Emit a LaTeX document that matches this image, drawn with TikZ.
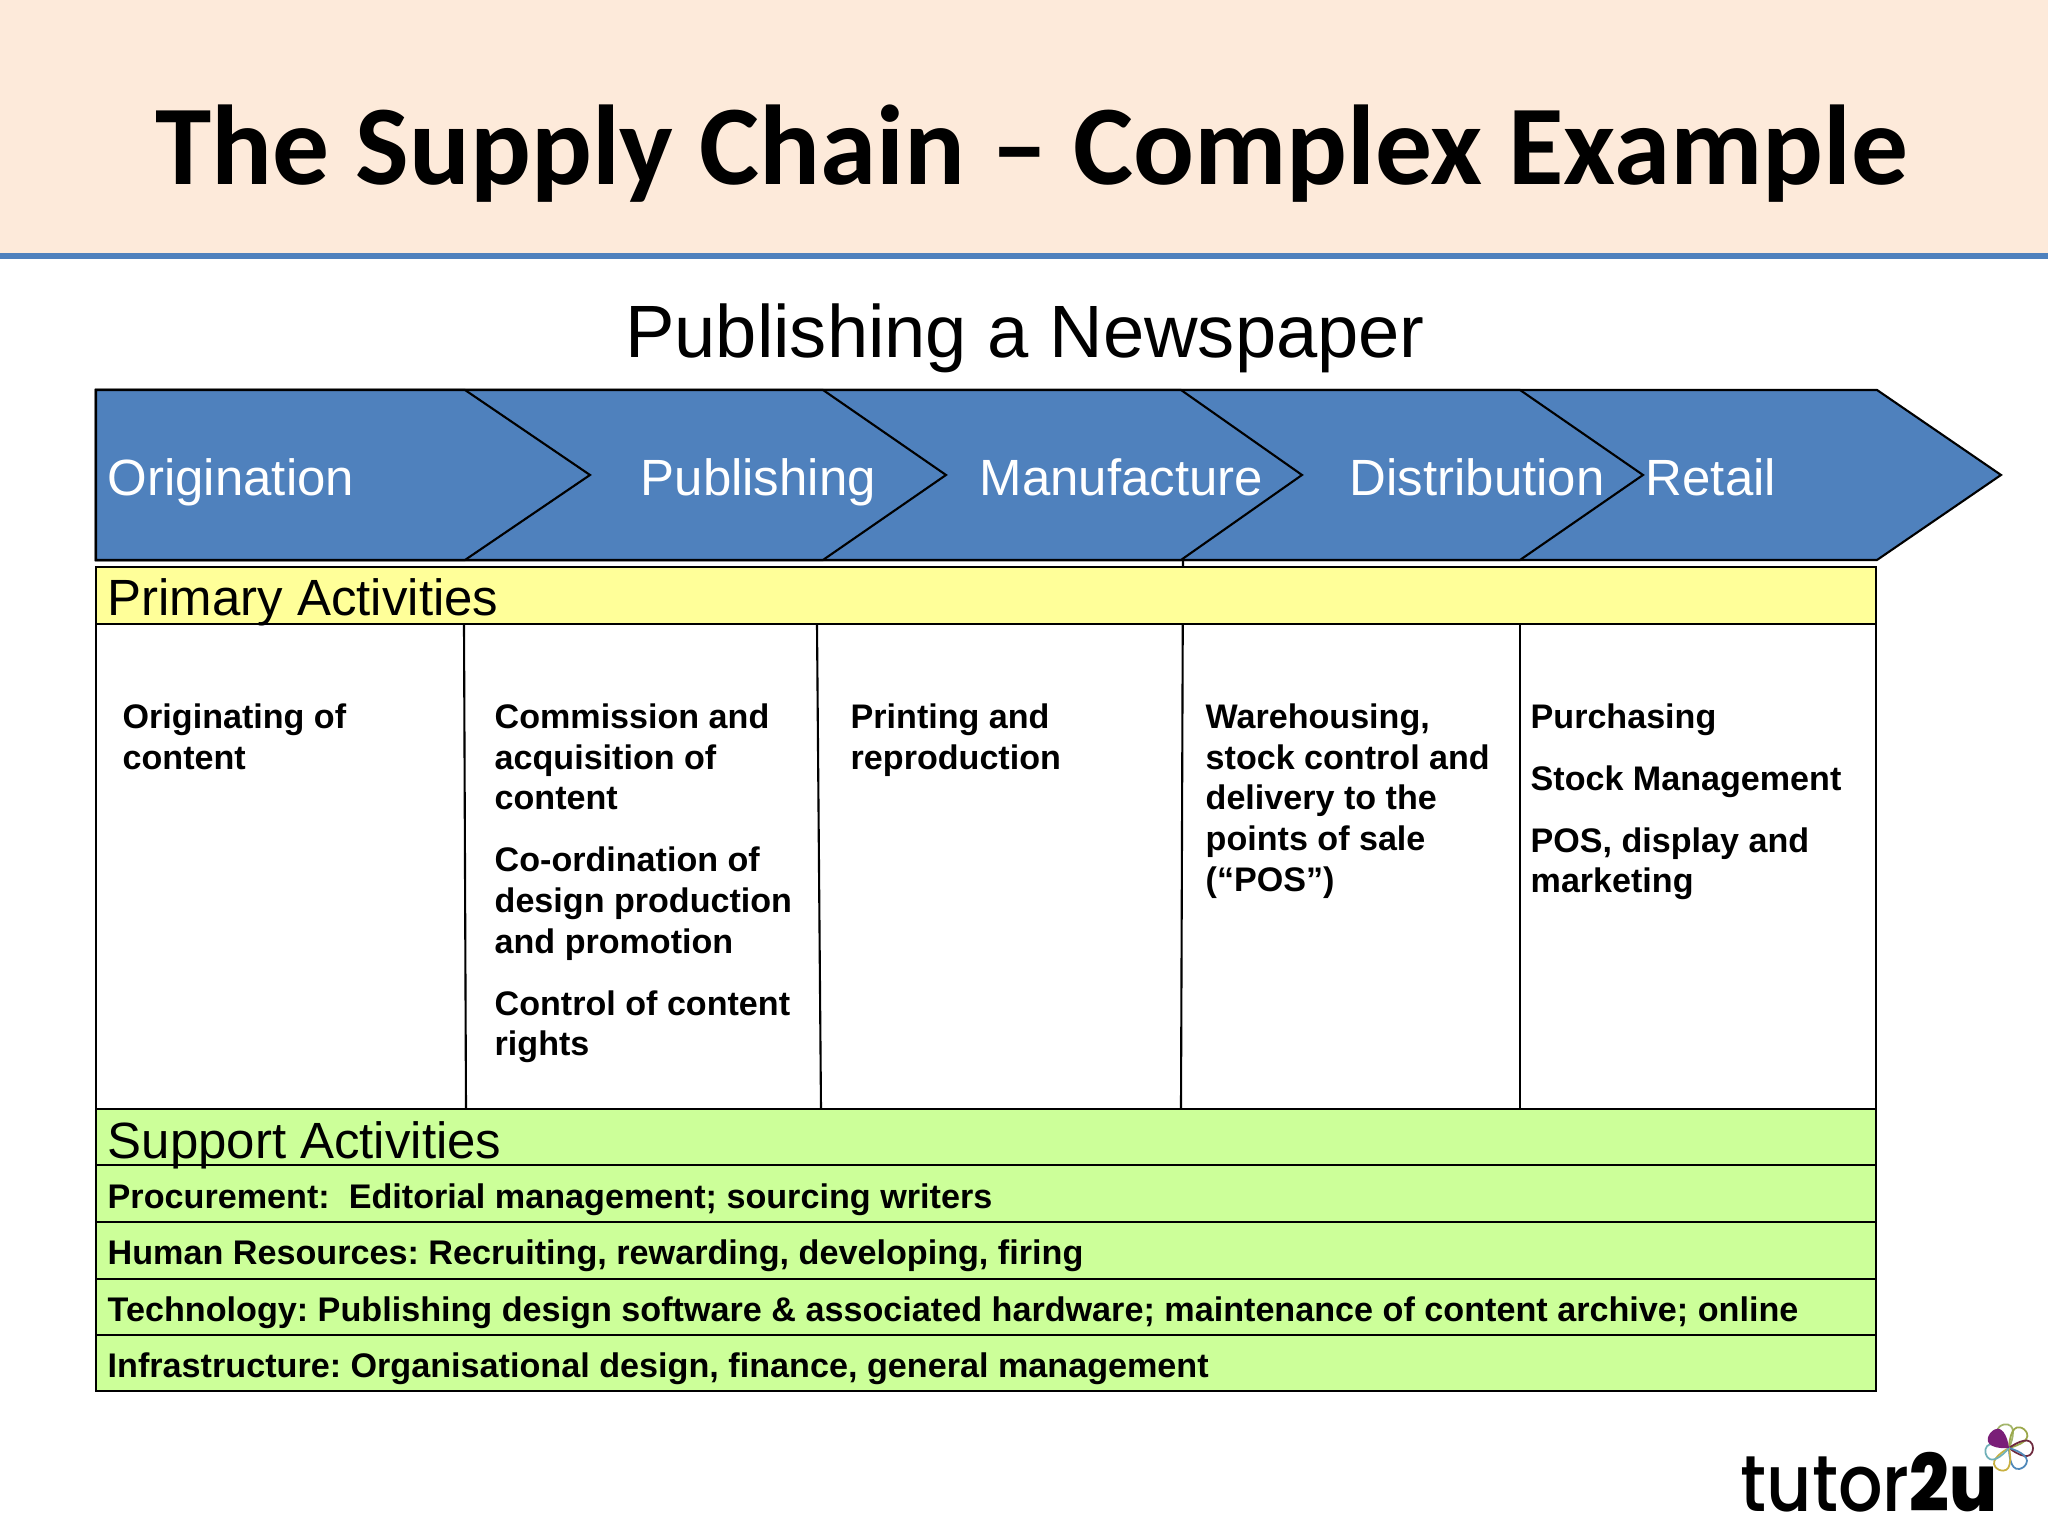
\documentclass[tikz,border=0pt]{standalone}
\usepackage{fontspec}
\setmainfont{Liberation Sans}
\newfontfamily\titlefont{Carlito}
\newfontfamily\logofont{Poppins}[UprightFont=* Medium,BoldFont=* ExtraBold,FakeStretch=0.88]
\definecolor{headpeach}{HTML}{FDEADA}
\definecolor{headline}{HTML}{4F81BD}
\definecolor{stagefill}{HTML}{4F81BD}
\definecolor{primaryfill}{HTML}{FFFF99}
\definecolor{supportfill}{HTML}{CCFF99}
\definecolor{petalsage}{HTML}{A3B56B}
\definecolor{petalolive}{HTML}{9BA84A}
\definecolor{petalmaroon}{HTML}{6E2A3E}
\definecolor{petalblue}{HTML}{4F88B8}
\definecolor{petalyellow}{HTML}{C8B040}
\definecolor{petalteal}{HTML}{70B0B8}
\definecolor{petalpurple}{HTML}{7A1E78}
\frenchspacing
\begin{document}
\begin{tikzpicture}[>=stealth,
  stagebox/.style={draw=black,fill=stagefill,line width=0.6pt,line join=miter},
  rowbox/.style={draw=black,line width=0.6pt},
  stagelabel/.style={anchor=base west,inner sep=0pt,text=white,font=\fontsize{14.5}{17}\selectfont},
  bandlabel/.style={anchor=base west,inner sep=0pt,font=\fontsize{14.5}{17}\selectfont},
  rowlabel/.style={anchor=base west,inner sep=0pt,font=\fontsize{9.72}{11.6}\selectfont\bfseries},
  celltext/.style={anchor=north west,inner sep=0pt,align=left,font=\fontsize{9.7}{11.6}\selectfont\bfseries},
  petal/.style={line width=0.5pt}]
\useasboundingbox (0,0) rectangle (20.48,15.36);

% header
\fill[headpeach] (0,12.83) rectangle (20.48,15.36);
\fill[headline] (0,12.77) rectangle (20.48,12.83);
\node[anchor=base,inner sep=0pt,font=\titlefont\fontsize{32.3}{40}\selectfont\bfseries] (title) at (10.32,13.51) {The Supply Chain – Complex Example};
\node[anchor=base,inner sep=0pt,font=\fontsize{21.1}{25}\selectfont] (subtitle) at (10.25,11.78) {Publishing a Newspaper};

% chevrons, last one first
\foreach \corner/\tip in {18.77/20.01,15.20/16.43,11.81/13.02,8.23/9.46,4.65/5.90}
  \draw[stagebox] (0.96,11.46) -- (\corner,11.46) -- (\tip,10.61) -- (\corner,9.76) -- (0.96,9.76) -- cycle;

\node[stagelabel] (origination) at (1.07,10.40) {Origination};
\node[stagelabel] (publishing) at (6.40,10.40) {Publishing};
\node[stagelabel] (manufacture) at (9.79,10.40) {Manufacture};
\node[stagelabel] (distribution) at (13.49,10.40) {Distribution};
\node[stagelabel] (retail) at (16.45,10.40) {Retail};

% primary activities
\draw[rowbox,fill=white] (0.96,4.27) rectangle (18.76,9.12);
\draw[rowbox] (4.64,9.12) -- (4.66,4.27);
\draw[rowbox] (8.17,9.12) -- (8.21,4.27);
\draw[rowbox] (11.83,9.76) -- (11.81,4.27);
\draw[rowbox] (15.20,9.12) -- (15.20,4.27);
\draw[rowbox,fill=primaryfill] (0.96,9.12) rectangle (18.76,9.69);
\node[bandlabel] (primary) at (1.07,9.20) {Primary Activities};

\node[celltext] (cellorigin) at (1.22,8.33) {Originating of\\content};
\node[celltext] (cellpublish) at (4.94,8.33) {Commission and\\acquisition of\\content\\[6pt]Co-ordination of\\design production\\and promotion\\[6pt]Control of content\\rights};
\node[celltext] (cellmanuf) at (8.50,8.33) {Printing and\\reproduction};
\node[celltext] (celldistrib) at (12.05,8.33) {Warehousing,\\stock control and\\delivery to the\\points of sale\\(“POS”)};
\node[celltext] (cellretail) at (15.30,8.33) {Purchasing\\[6pt]Stock Management\\[6pt]POS, display and\\marketing};

% support activities
\foreach \ylow/\yhigh in {3.71/4.27,3.14/3.71,2.57/3.14,2.01/2.57,1.45/2.01}
  \draw[rowbox,fill=supportfill] (0.96,\ylow) rectangle (18.76,\yhigh);
\node[bandlabel] (support) at (1.07,3.77) {Support Activities};
\node[rowlabel] (procurement) at (1.07,3.27) {Procurement:\ \ Editorial management; sourcing writers};
\node[rowlabel] (resources) at (1.07,2.71) {Human Resources: Recruiting, rewarding, developing, firing};
\node[rowlabel] (technology) at (1.07,2.14) {Technology: Publishing design software \& associated hardware; maintenance of content archive; online};
\node[rowlabel] (infrastructure) at (1.07,1.58) {Infrastructure: Organisational design, finance, general management};

% logo
\node[anchor=base west,inner sep=0pt,font=\logofont\fontsize{22.6}{26}\selectfont] (logo) at (17.40,0.24) {tutor\textbf{2u}};
\foreach \angle/\tone in {103/petalsage,51/petalolive,-1/petalmaroon,-53/petalblue,-115/petalyellow,-167/petalteal}
  \draw[petal,\tone,rotate around={\angle:(20.09,0.88)}] (20.09,0.88) .. controls (20.17,0.94) and (20.32,1.02) .. (20.33,0.88) .. controls (20.32,0.74) and (20.17,0.82) .. (20.09,0.88);
\fill[petalpurple,rotate around={141:(20.09,0.88)}] (20.09,0.88) .. controls (20.17,0.96) and (20.32,1.04) .. (20.33,0.88) .. controls (20.32,0.72) and (20.17,0.80) .. (20.09,0.88);
\end{tikzpicture}
\end{document}
